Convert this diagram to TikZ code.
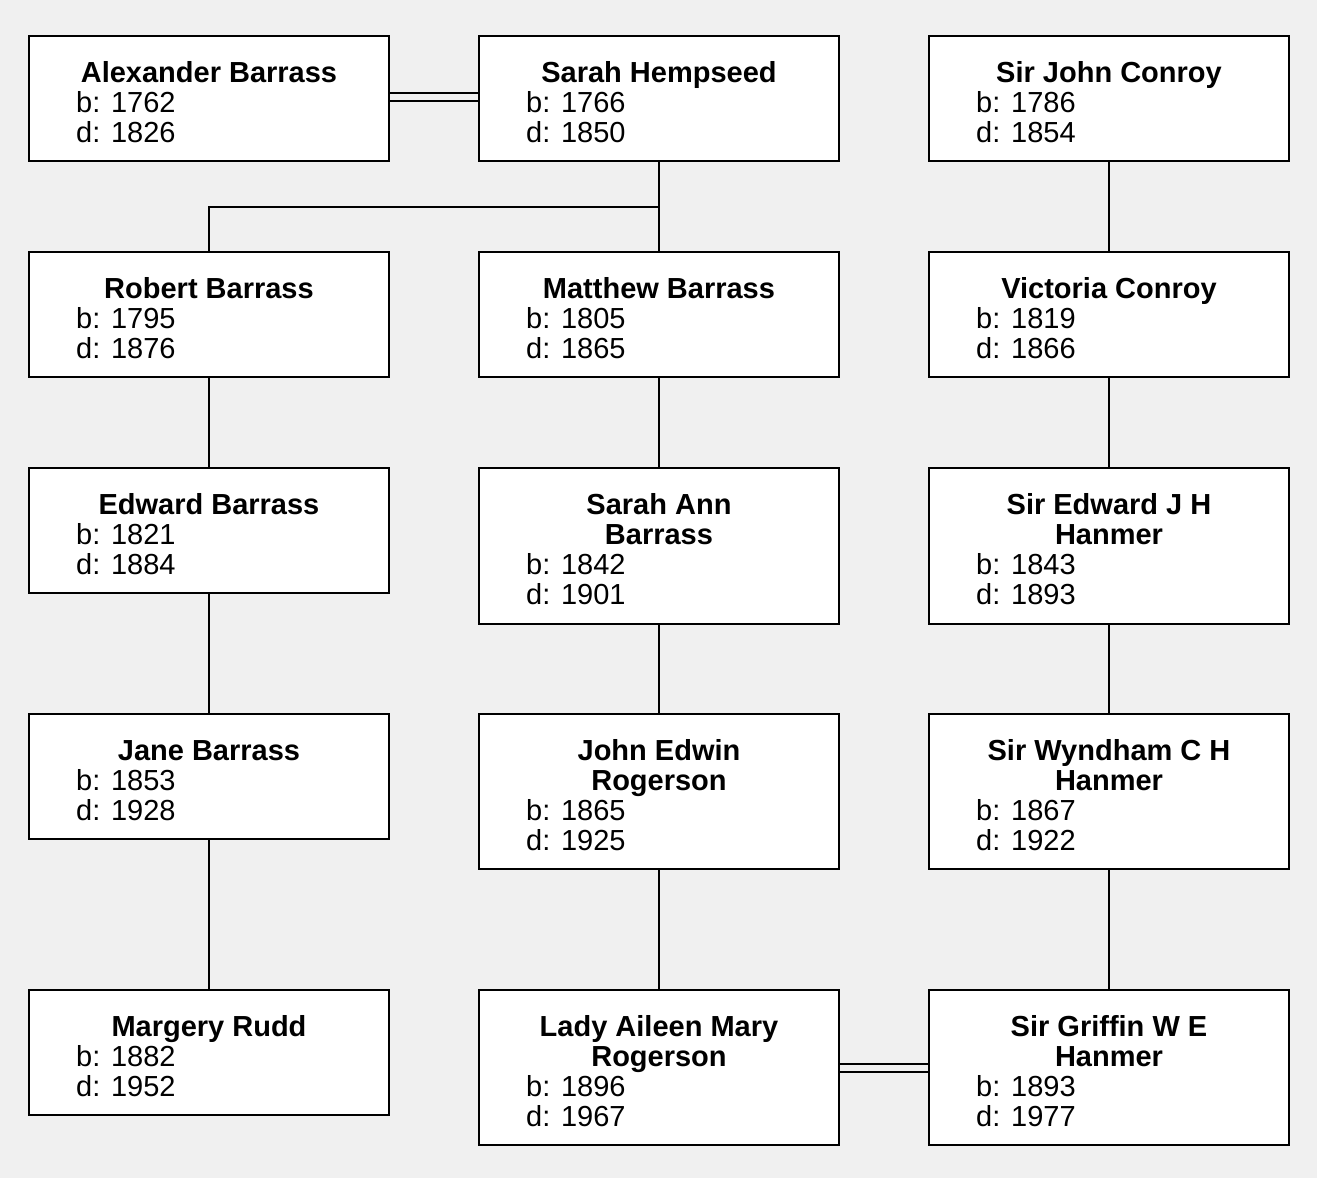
\documentclass[tikz,border=0pt]{standalone}
\usepackage{fontspec}
\setmainfont{Liberation Sans}
\begin{document}
\begin{tikzpicture}[x=1pt,y=-1pt,
  pbox/.style={draw=black,fill=white,line width=2.4pt},
  ptxt/.style={font=\fontsize{29}{30}\selectfont,inner sep=0pt,anchor=base west},
  pname/.style={font=\fontsize{29}{30}\selectfont\bfseries,inner sep=0pt,anchor=base},
  conn/.style={line width=2.4pt}]
\fill[gray!12] (0,0) rectangle (1317,1178);
\useasboundingbox (0,0) rectangle (1317,1178);
\foreach \n/\x/\t/\b in {a/29/36/161,s/479/36/161,j/929/36/161,
  r/29/252/377,m/479/252/377,v/929/252/377,
  e/29/468/593,sa/479/468/624,eh/929/468/624,
  ja/29/714/839,je/479/714/869,w/929/714/869,
  mr/29/990/1115,la/479/990/1145,g/929/990/1145}{
  \draw[pbox] (\x,\t) rectangle ++(360,\b-\t);
  \coordinate (\n-t) at (\x+180,\t);
  \coordinate (\n-b) at (\x+180,\b);
  \coordinate (\n-l) at (\x,\t);
  \coordinate (\n-r) at (\x+360,\t);
}
\foreach \n/\x/\y/\nm/\bb/\dd in {a/29/72/Alexander Barrass/1762/1826,
  s/479/72/Sarah Hempseed/1766/1850, j/929/72/Sir John Conroy/1786/1854,
  r/29/288/Robert Barrass/1795/1876, m/479/288/Matthew Barrass/1805/1865,
  v/929/288/Victoria Conroy/1819/1866, e/29/504/Edward Barrass/1821/1884,
  ja/29/750/Jane Barrass/1853/1928, mr/29/1026/Margery Rudd/1882/1952}{
  \node[pname] (\n-n) at (\x+180,\y+10) {\nm};
  \node[ptxt] (\n-bd) at (\x+47,\y+40) {b: \bb};
  \node[ptxt] (\n-dd) at (\x+47,\y+70) {d: \dd};
}
\foreach \n/\x/\y/\na/\nb/\bb/\dd in {sa/479/504/Sarah Ann/Barrass/1842/1901,
  eh/929/504/Sir Edward J H/Hanmer/1843/1893,
  je/479/750/John Edwin/Rogerson/1865/1925,
  w/929/750/Sir Wyndham C H/Hanmer/1867/1922,
  la/479/1026/Lady Aileen Mary/Rogerson/1896/1967,
  g/929/1026/Sir Griffin W E/Hanmer/1893/1977}{
  \node[pname] (\n-n) at (\x+180,\y+10) {\na};
  \node[pname] (\n-n2) at (\x+180,\y+40) {\nb};
  \node[ptxt] (\n-bd) at (\x+47,\y+70) {b: \bb};
  \node[ptxt] (\n-dd) at (\x+47,\y+100) {d: \dd};
}
\draw[conn,line width=1.8pt] ([yshift=-57]a-r) -- ([yshift=-57]s-l);
\draw[conn,line width=1.8pt] ([yshift=-65]a-r) -- ([yshift=-65]s-l);
\draw[conn,line width=1.8pt] ([yshift=-74]la-r) -- ([yshift=-74]g-l);
\draw[conn,line width=1.8pt] ([yshift=-82]la-r) -- ([yshift=-82]g-l);
\draw[conn] (s-b) -- (m-t);
\coordinate (br) at (659,207);
\draw[conn] (br) -| (r-t);
\foreach \p/\c in {r/e,e/ja,ja/mr,m/sa,sa/je,je/la,j/v,v/eh,eh/w,w/g}{
  \draw[conn] (\p-b) -- (\c-t);
}
\end{tikzpicture}
\end{document}
